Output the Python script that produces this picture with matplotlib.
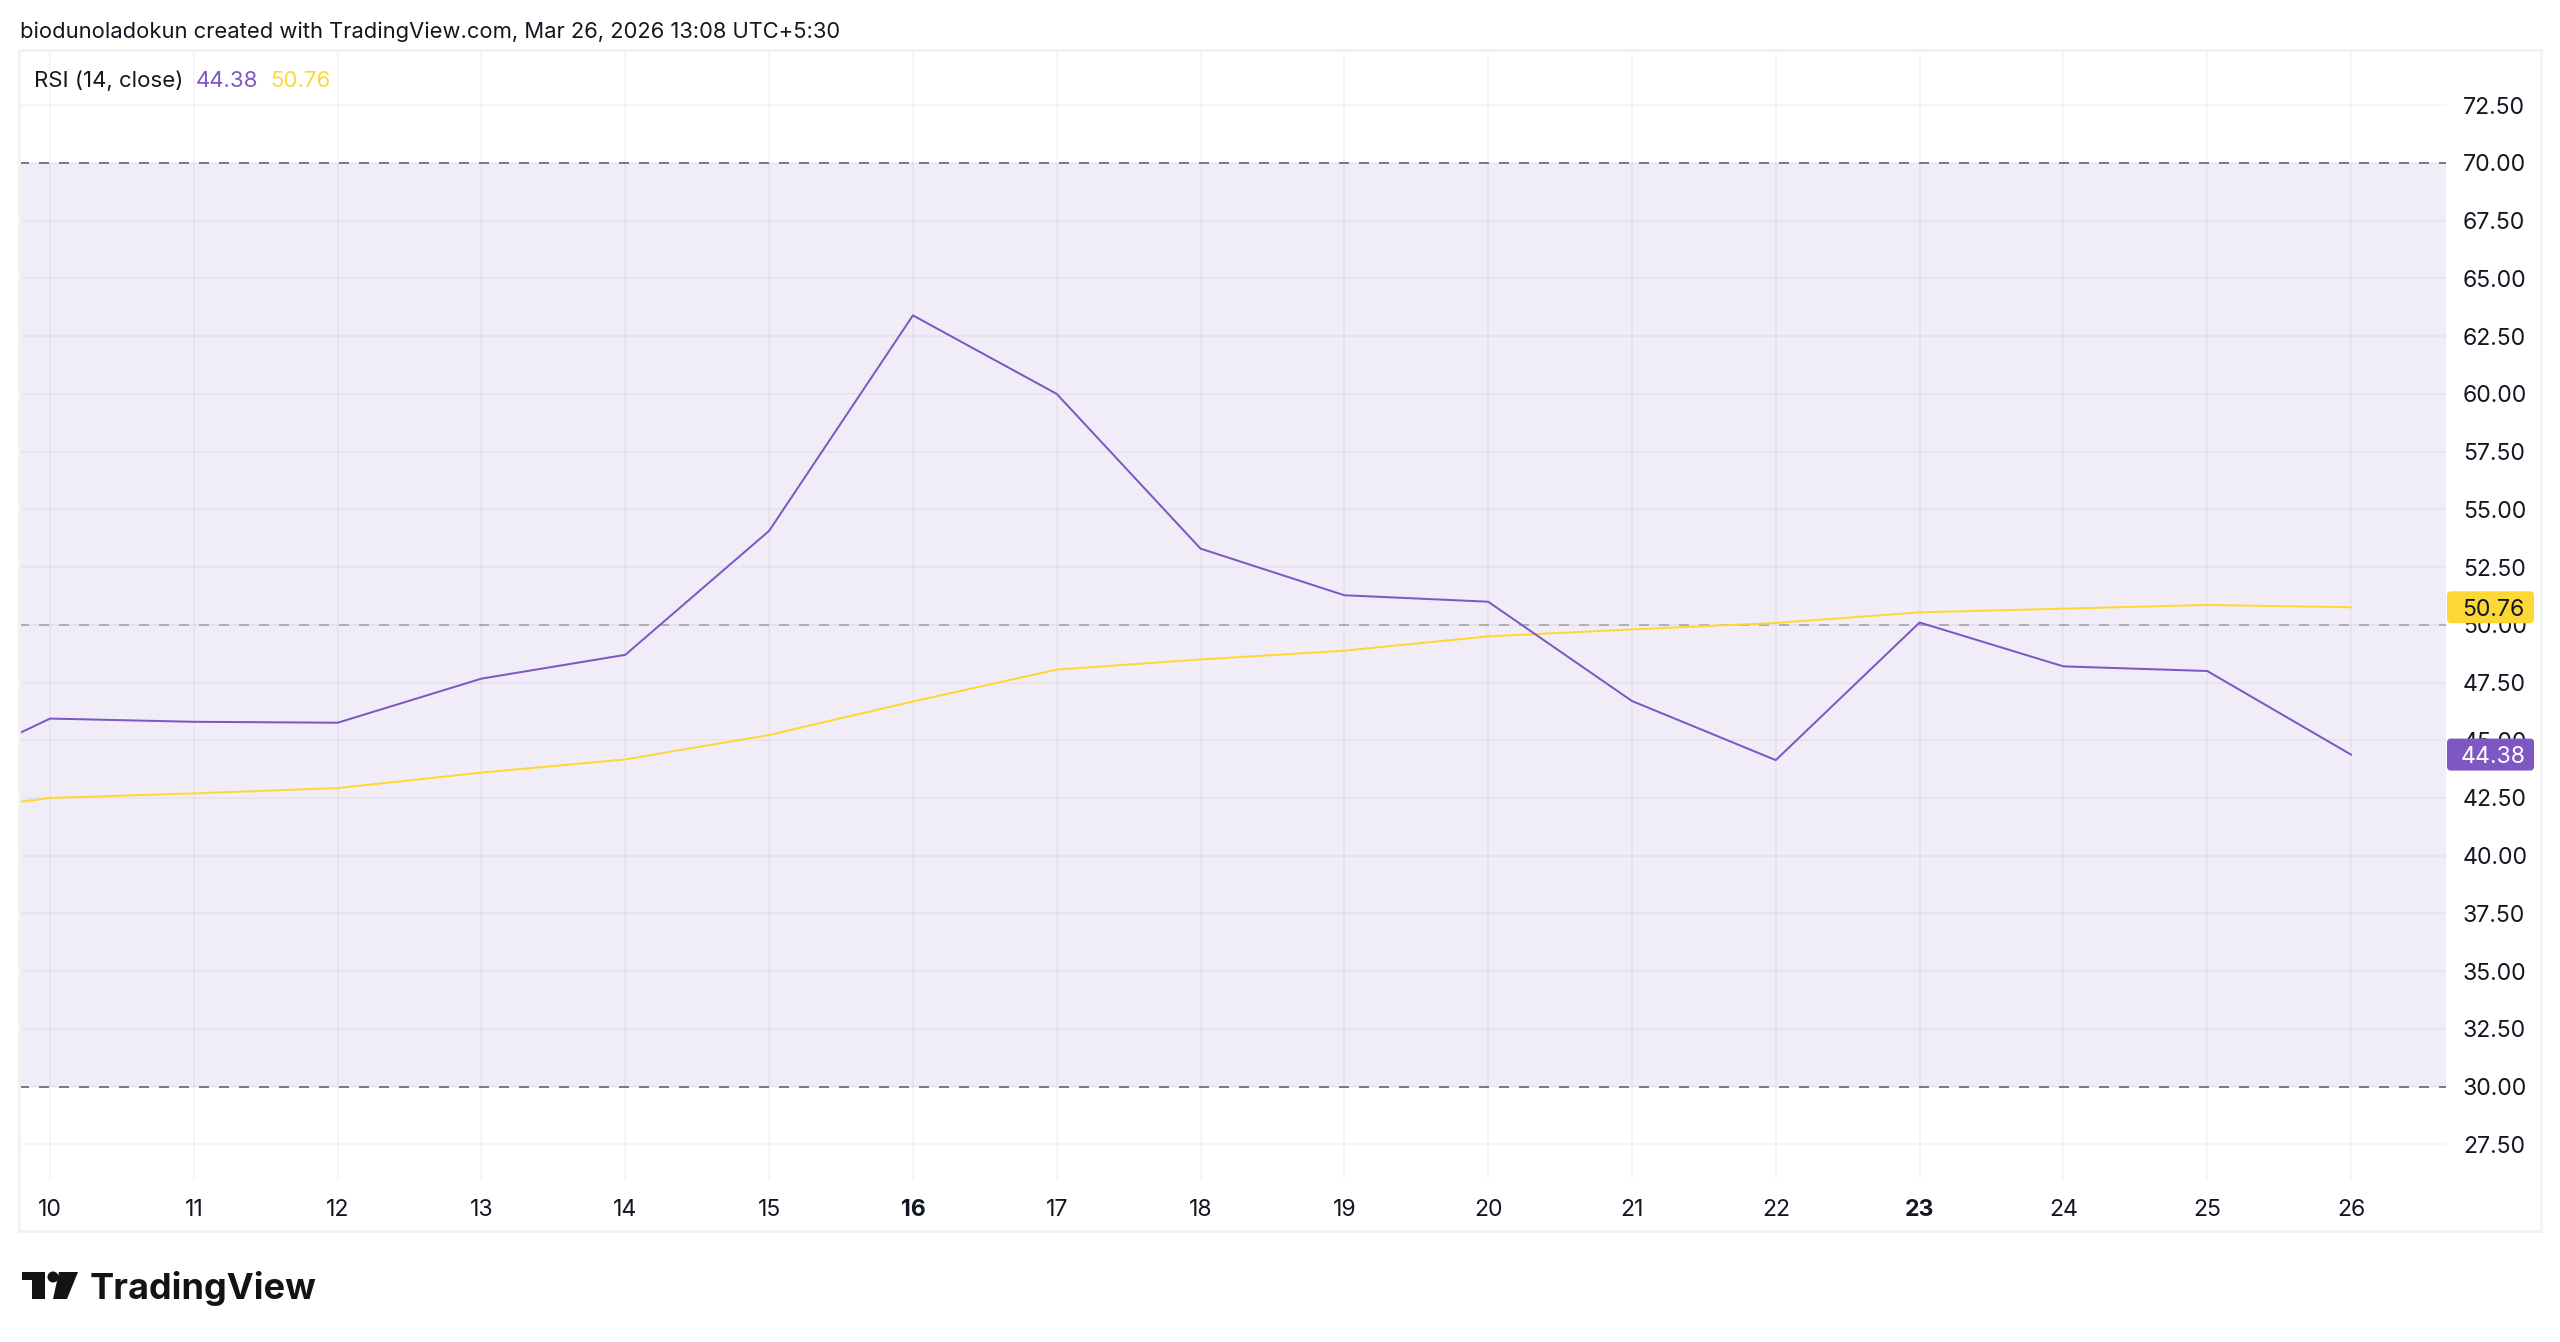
"""
RSI (14, close) chart with the TradingView frame, 2560x1342.
"""

import matplotlib
matplotlib.use("Agg")
import matplotlib.pyplot as plt
from matplotlib.patches import Circle, FancyBboxPatch, Polygon, Rectangle
from matplotlib.transforms import IdentityTransform

DAYS = [9, 10, 11, 12, 13, 14, 15, 16, 17, 18, 19, 20, 21, 22, 23, 24, 25, 26]
RSI = [42.97, 45.94, 45.8, 45.76, 47.67, 48.7, 54.07, 63.4, 60.0, 53.3,
       51.28, 51.0, 46.7, 44.14, 50.1, 48.2, 48.0, 44.38]
RSI_MA = [41.7, 42.5, 42.7, 42.93, 43.6, 44.17, 45.23, 46.68, 48.06, 48.5,
          48.88, 49.5, 49.8, 50.08, 50.54, 50.7, 50.86, 50.76]
X_TICKS = [10, 11, 12, 13, 14, 15, 16, 17, 18, 19, 20, 21, 22, 23, 24, 25, 26]
BOLD_DAYS = [16, 23]
Y_TICKS = [27.5, 30, 32.5, 35, 37.5, 40, 42.5, 45, 47.5, 50, 52.5, 55, 57.5,
           60, 62.5, 65, 67.5, 70, 72.5]
BAND_LOW, BAND_MID, BAND_HIGH = 30, 50, 70
LAST_RSI, LAST_MA = 44.38, 50.76

PURPLE = "#7E57C2"
YELLOW = "#FDD835"
TEXT = "#131722"
W, H = 2560, 1342
PX = 0.72  # one pixel in points at dpi 100
SCALE_FONT = 16.6

plt.rcParams["font.family"] = ["Inter", "DejaVu Sans"]


def px_fig(x, y):
    return x / W, 1 - y / H


def pxy(pts):
    return [(a, H - b) for a, b in pts]


fig = plt.figure(figsize=(W / 100, H / 100), dpi=100, facecolor="white")
left, top = 19, 51
right, bottom = 2445.5, 1179
ax = fig.add_axes([left / W, 1 - bottom / H, (right - left) / W, (bottom - top) / H])
ax.set_xlim(9.784, 26.657)
ax.set_ylim(26.0, 74.85)

ax.axhspan(BAND_LOW, BAND_HIGH, color="#f0edf8", lw=0, zorder=0)
ax.set_xticks(X_TICKS)
ax.set_yticks(Y_TICKS)
ax.set_yticklabels([f"{v:.2f}" for v in Y_TICKS])
ax.grid(True, color="black", alpha=0.035, lw=2 * PX, zorder=1)
ax.set_axisbelow(True)
ax.yaxis.tick_right()
ax.tick_params(axis="both", length=0, labelsize=SCALE_FONT, labelcolor=TEXT)
ax.tick_params(axis="y", pad=17.5 * PX)
ax.tick_params(axis="x", pad=20 * PX)
for lab, day in zip(ax.get_xticklabels(), X_TICKS):
    if day in BOLD_DAYS:
        lab.set_fontweight("bold")
for s in ax.spines.values():
    s.set_visible(False)

dash = (0, (10 / 2, 10 / 2))
for level, a in [(BAND_HIGH, 1.0), (BAND_LOW, 1.0), (BAND_MID, 0.5)]:
    ax.axhline(level, color="#787B86", alpha=a, lw=2 * PX, ls=dash, zorder=2)

ax.plot(DAYS, RSI_MA, color=YELLOW, lw=2 * PX, zorder=3)
ax.plot(DAYS, RSI, color=PURPLE, lw=2 * PX, zorder=4)

# outer frame of the screenshot
fig.add_artist(Rectangle((18.5, H - 1231), 2541 - 18.5, 1231 - 50, transform=IdentityTransform(),
                         fill=False, ec="#f2f2f4", lw=3 * PX, zorder=1))

# price badges on the right scale, over the tick labels
fig.canvas.draw()
for value, bg, fg in [(LAST_MA, YELLOW, TEXT), (LAST_RSI, PURPLE, "white")]:
    yc = ax.transData.transform((0, value))[1]
    fig.add_artist(FancyBboxPatch((2449, yc - 14), 83, 28, boxstyle="round,pad=2,rounding_size=4",
                                  transform=IdentityTransform(), fc=bg, ec="none", zorder=2))
    fig.text(2493 / W, yc / H, f"{value:.2f}", color=fg, fontsize=SCALE_FONT, ha="center",
             va="center_baseline", zorder=3)

# header and legend
x, y = px_fig(19.5, 30)
fig.text(x, y, "biodunoladokun created with TradingView.com, Mar 26, 2026 13:08 UTC+5:30",
         fontsize=15.8, color=TEXT, va="center_baseline")
for x0, label, col in [(34, "RSI (14, close)", TEXT), (196, f"{LAST_RSI:.2f}", PURPLE),
                       (270, f"{LAST_MA:.2f}", YELLOW)]:
    x, y = px_fig(x0, 79)
    fig.text(x, y, label, fontsize=16, color=col, va="center_baseline")

# TradingView logo
LOGO = "#131313"
for pts in ([(22, 1272), (45, 1272), (45, 1299), (32, 1299), (32, 1280), (22, 1280)],
            [(59, 1272), (78, 1272), (67, 1299), (53, 1299)]):
    fig.add_artist(Polygon(pxy(pts), transform=IdentityTransform(), fc=LOGO, ec="none"))
fig.add_artist(Circle((53, H - 1277), 5.5, transform=IdentityTransform(), fc=LOGO, ec="none"))
x, y = px_fig(90, 1299)
fig.text(x, y, "TradingView", fontsize=26, fontweight="bold", color=LOGO, va="baseline")

fig.savefig("out.png", dpi=100)
